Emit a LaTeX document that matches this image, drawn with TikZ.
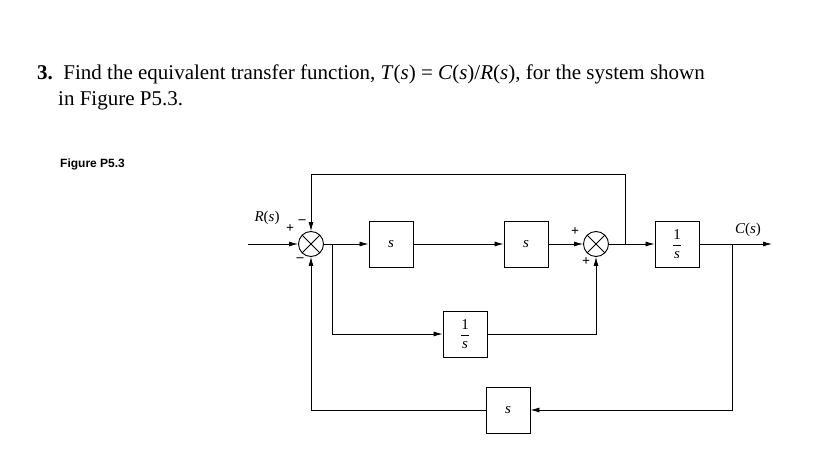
\documentclass[tikz,border=0pt]{standalone}
\usepackage{amsmath}
\usepackage{fontspec}
\setmainfont{Liberation Serif}
\setsansfont{Liberation Sans}
\usetikzlibrary{arrows.meta,positioning}
\newcommand{\ovs}{$\dfrac{\text{\upshape 1}}{\text{\itshape s}}$}
\tikzset{
  blk/.style={draw, line width=0.9pt, minimum width=44pt, minimum height=46pt, inner sep=0pt, font=\fontsize{15}{17}\selectfont\itshape},
  sum/.style={draw, circle, line width=0.9pt, minimum size=25pt, inner sep=0pt,
    path picture={\draw[line width=0.9pt] (path picture bounding box.north west) -- (path picture bounding box.south east)
      (path picture bounding box.north east) -- (path picture bounding box.south west);}},
  sig/.style={line width=0.8pt, -{Latex[length=9pt,width=5pt]}},
  sgn/.style={font=\fontsize{14}{16}\selectfont\bfseries, inner sep=0pt}
}
\begin{document}
\begin{tikzpicture}[x=1pt,y=-1pt]
\useasboundingbox (0,0) rectangle (820,476);

% question text
\node[anchor=base west, font=\fontsize{21}{24}\selectfont, inner sep=0pt] (q1) at (37,80)
  {\textbf{3.}\ \ Find the equivalent transfer function, \textit{T}(\textit{s})~=~\textit{C}(\textit{s})/\textit{R}(\textit{s}), for the system shown};
\node[anchor=base west, font=\fontsize{21}{24}\selectfont, inner sep=0pt] (q2) at (58,106) {in Figure P5.3.};
\node[anchor=base west, font=\sffamily\bfseries\fontsize{12}{14}\selectfont, inner sep=0pt] (fig) at (60,168) {Figure P5.3};

% blocks and summers
\node[sum] (s1) at (311,244) {};
\node[blk] (g1) at (391,244) {s};
\node[blk] (g2) at (526,244) {s};
\node[sum] (s2) at (596,244) {};
\node[blk] (g3) at (677,244) {\ovs};
\node[blk] (g4) at (465,334) {\ovs};
\node[blk] (h1) at (508,410) {s};

\coordinate (rin) at (248,244);
\coordinate (b1) at (332,244);
\coordinate (b2) at (625,244);
\coordinate (b3) at (732,244);
\coordinate (cout) at (772,244);

% forward path
\draw[sig] (rin) -- (s1);
\draw[sig] (s1) -- (g1);
\draw[sig] (g1) -- (g2);
\draw[sig] (g2) -- (s2);
\draw[sig] (s2) -- (g3);
\draw[sig] (g3) -- (cout);
% parallel 1/s
\draw[sig] (b1) |- (g4);
\draw[sig] (g4) -| (s2);
% feedback loops
\draw[sig] (b2) |- (311,174) -- (s1);
\draw[sig] (b3) |- (h1);
\draw[sig] (h1) -| (s1);

% labels
\node[font=\fontsize{15}{17}\selectfont] (rl) at (267,218) {\textit{R}(\textit{s})};
\node[font=\fontsize{15}{17}\selectfont] (cl) at (748,230) {\textit{C}(\textit{s})};
\node[sgn] (p1) at (290,229) {+};
\node[sgn] (m1) at (302,222) {\textendash};
\node[sgn] (m2) at (300,260) {\textendash};
\node[sgn] (p2) at (575,232) {+};
\node[sgn] (p3) at (586,262) {+};
\end{tikzpicture}
\end{document}
